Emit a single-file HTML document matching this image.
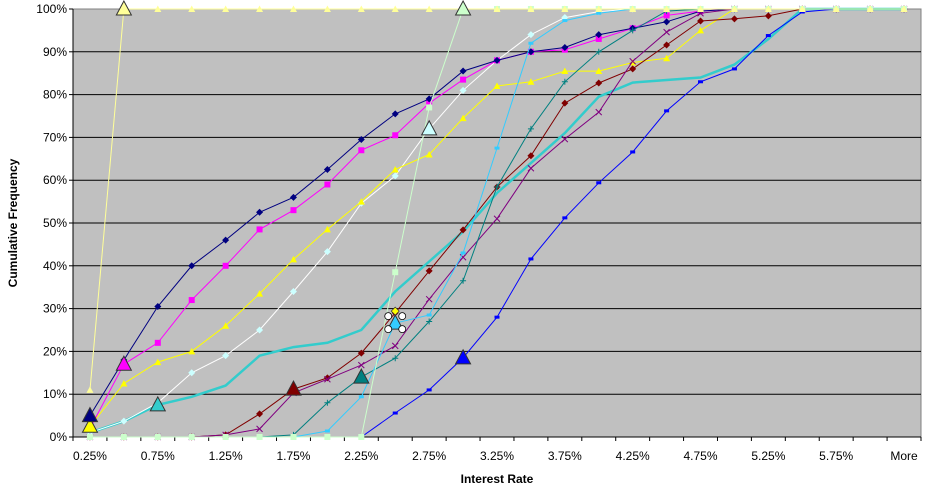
<!DOCTYPE html>
<html><head><meta charset="utf-8"><style>
html,body{margin:0;padding:0;background:#fff;}
svg{display:block;font-family:"Liberation Sans",Arial,sans-serif;}
</style></head><body>
<svg id="chart" width="934" height="491">
<rect x="73" y="9" width="848" height="428" fill="#c0c0c0" stroke="#808080" stroke-width="1"/>
<g id="grid"></g>
<g id="axes"></g>
<g id="series"></g>
<text x="17" y="223" font-size="12" font-weight="bold" text-anchor="middle" transform="rotate(-90 17 223)">Cumulative Frequency</text>
<text x="497" y="483" font-size="12" font-weight="bold" text-anchor="middle">Interest Rate</text>
</svg>
<script>
const categories=["0.25%","0.50%","0.75%","1.00%","1.25%","1.50%","1.75%","2.00%","2.25%","2.50%","2.75%","3.00%","3.25%","3.50%","3.75%","4.00%","4.25%","4.50%","4.75%","5.00%","5.25%","5.50%","5.75%","6.00%","More"];
const yTicks=[0,10,20,30,40,50,60,70,80,90,100];
const navy=[5,18,30.5,40,46,52.5,56,62.5,69.5,75.5,79,85.5,88,90,91,94,95.5,97,99.5,100,100,100,100,100,100];
const magenta=[2,17,22,32,40,48.5,53,59,67,70.5,78,83.5,88,90,90.5,93,95.5,98.5,99.5,100,100,100,100,100,100];
const yellow=[2.5,12.5,17.5,20,26,33.5,41.5,48.5,55,62.5,66,74.5,82,83,85.5,85.5,87.5,88.5,95,100,100,100,100,100,100];
const white=[1,3.7,8,15,19,25,34,43.3,54.6,61,72,81,88,94,98,99.4,100,100,100,100,100,100,100,100,100];
const paleYellow=[11,100,100,100,100,100,100,100,100,100,100,100,100,100,100,100,100,100,100,100,100,100,100,100,100];
const lightGreen=[0,0,0,0,0,0,0,0,0,38.5,77,100,100,100,100,100,100,100,100,100,100,100,100,100,100];
const cyanThick=[1,3.7,7.5,9.4,12,19,21,22,25,34,41,48,57,64,71,79.5,82.8,83.4,84,87,93,100,100,100,100];
const darkRed=[0,0,0,0,0.5,5.4,11.2,13.8,19.6,29,38.8,48.4,58.4,65.7,78,82.7,86,91.6,97.2,97.7,98.4,100,100,100,100];
const purple=[0,0,0,0,0.5,1.9,10.3,13.5,16.8,21.3,32.2,42,51,62.8,69.6,75.9,87.8,94.6,99,100,100,100,100,100,100];
const teal=[0,0,0,0,0,0,0.5,8,14,18.4,27,36.5,58.4,72,83,90,95,99.5,100,100,100,100,100,100,100];
const sky=[0,0,0,0,0,0,0,1.4,9.4,26.6,28.5,43,67.5,92,97.3,99,100,100,100,100,100,100,100,100,100];
const blue=[0,0,0,0,0,0,0,0,0,5.6,11,18.5,28,41.6,51.2,59.4,66.6,76.2,83,86,93.8,99.3,100,100,100];

const L=73,R=921,T=9,B=437;
const bw=(R-L)/categories.length;
const xS=i=>L+bw*(i+0.5);
const yS=v=>B-(B-T)*v/100;
const NS="http://www.w3.org/2000/svg";
function mk(tag,attrs,parent){const e=document.createElementNS(NS,tag);for(const k in attrs)e.setAttribute(k,attrs[k]);parent.appendChild(e);return e;}
const grid=document.getElementById('grid'),axes=document.getElementById('axes'),sg=document.getElementById('series');
yTicks.forEach(t=>{
  const y=yS(t);
  if(t>0&&t<100){const g=mk('line',{x1:L,x2:R,y1:y,y2:y,stroke:'#000','stroke-width':1},grid);
  
  }
  const tk=mk('line',{x1:L-4,x2:L,y1:y,y2:y,stroke:'#000'},axes);
  
  
  const tx=mk('text',{x:L-6,y:y+4,'font-size':12,'text-anchor':'end'},axes);
  tx.textContent=t+'%';
  
  
});
mk('line',{x1:L,x2:L,y1:T,y2:B,stroke:'#000'},axes);
mk('line',{x1:L,x2:R,y1:B,y2:B,stroke:'#000'},axes);
for(let i=0;i<=categories.length;i++){
  const x=L+bw*i;
  const tk=mk('line',{x1:x,x2:x,y1:B,y2:B+4,stroke:'#000'},axes);
  
  
}
categories.forEach((c,i)=>{
  if(i%2)return;
  const tx=mk('text',{x:xS(i),y:460,'font-size':12,'text-anchor':'middle'},axes);
  tx.textContent=c;
  
  
});
const seriesList=[
 {n:'cyan-thick',d:cyanThick,c:'#33cccc',m:'none',big:2,bf:'#33cccc',w:2.5},
 {n:'white',d:white,c:'#ffffff',m:'dia',mc:'#ccffff',big:10,bf:'#ccffff',w:1},
 {n:'yellow',d:yellow,c:'#ffff00',m:'tri',big:0,bf:'#ffff00',w:1},
 {n:'magenta',d:magenta,c:'#ff00ff',m:'sq',big:1,bf:'#ff00ff',w:1},
 {n:'navy',d:navy,c:'#000080',m:'dia',big:0,bf:'#000080',w:1},
 {n:'dark-red',d:darkRed,c:'#800000',m:'dia',big:6,bf:'#800000',w:1},
 {n:'purple',d:purple,c:'#800080',m:'x',big:-1,w:1},
 {n:'teal',d:teal,c:'#008080',m:'plus',big:8,bf:'#008080',w:1},
 {n:'sky',d:sky,c:'#33ccff',m:'dash',big:9,bf:'#33ccff',w:1},
 {n:'blue',d:blue,c:'#0000ff',m:'dash',big:11,bf:'#0000ff',w:1},
 {n:'light-green',d:lightGreen,c:'#ccffcc',m:'sq',big:11,bf:'#ccffcc',w:1},
 {n:'pale-yellow',d:paleYellow,c:'#ffff99',m:'tri',big:1,bf:'#ffff99',w:1}
];
seriesList.forEach(s=>{
  const g=mk('g',{},sg);
  
  
  const pts=s.d.map((v,i)=>xS(i).toFixed(1)+','+yS(v).toFixed(1)).join(' ');
  const pl=mk('polyline',{points:pts,fill:'none',stroke:s.c,'stroke-width':s.w},g);
  
  
  const mc=s.mc||s.c;
  s.d.forEach((v,i)=>{
    const x=xS(i),y=yS(v);let e;
    if(s.m==='tri')e=mk('polygon',{points:`${x},${y-3.5} ${x-3.5},${y+3} ${x+3.5},${y+3}`,fill:mc},g);
    else if(s.m==='sq')e=mk('rect',{x:x-3,y:y-3,width:6,height:6,fill:mc},g);
    else if(s.m==='dia')e=mk('polygon',{points:`${x},${y-3.5} ${x+3.5},${y} ${x},${y+3.5} ${x-3.5},${y}`,fill:mc},g);
    else if(s.m==='x')e=mk('path',{d:`M${x-3},${y-3}L${x+3},${y+3}M${x+3},${y-3}L${x-3},${y+3}`,stroke:mc},g);
    else if(s.m==='plus')e=mk('path',{d:`M${x-3},${y}L${x+3},${y}M${x},${y-3}L${x},${y+3}`,stroke:mc},g);
    else if(s.m==='dash')e=mk('rect',{x:x-2.5,y:y-1.5,width:5,height:3,fill:mc},g);
    if(e){
    }
  });
});
seriesList.forEach(s=>{
  if(s.big<0)return;
  const x=xS(s.big),y=yS(s.d[s.big]);
  const e=mk('polygon',{points:`${x},${y-8} ${x-7.5},${y+6} ${x+7.5},${y+6}`,fill:s.bf,stroke:'#333','stroke-width':1},sg);
  
  
});
const sx=xS(9),sy=yS(sky[9]);
const dm=mk('polygon',{points:`${sx},${sy-16} ${sx+4},${sy-12} ${sx},${sy-8} ${sx-4},${sy-12}`,fill:'#ffff00',stroke:'#333','stroke-width':0.7},sg);


[[-7,-7],[7,-7],[-7,6],[7,6]].forEach(o=>{
  const c=mk('circle',{cx:sx+o[0],cy:sy+o[1],r:3.5,fill:'#fff',stroke:'#000','stroke-width':0.8},sg);
  
  
});
</script>
</body></html>
